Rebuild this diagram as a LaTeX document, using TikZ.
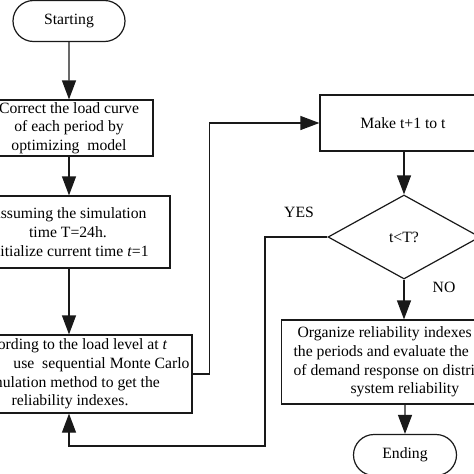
\documentclass[tikz,border=0pt]{standalone}
\usepackage{fontspec}
\setmainfont{Liberation Serif}
\usetikzlibrary{shapes.geometric,shapes.misc,arrows.meta}
\tikzset{
    TT/.style ={rounded rectangle, minimum height=41pt, inner sep=0pt, draw},
    RA/.style ={rectangle, align=center, inner sep=2pt, draw},
    DD/.style ={diamond, minimum width=152pt, minimum height=84pt, inner sep=0pt, draw},
    LB/.style ={inner sep=0pt}}
\begin{document}
\begin{tikzpicture}[x=1pt,y=-1pt,line width=1.2pt,draw=black!90,
    every node/.style={font=\fontsize{15.7}{18.7}\selectfont},
    >={Triangle[length=19pt,width=14pt]}]
        \useasboundingbox (0,0) rectangle (474,474);
        \node[TT,minimum width=112pt] (1) at(69,21){Starting};
        \node[RA,minimum width=168pt,minimum height=56pt] (2) at(69,128)
            {Correct the load curve\\of each period by\\optimizing\ \ model};
        \node[RA,minimum width=204pt,minimum height=72pt] (3) at(68,232)
            {Assuming the simulation\\time T=24h.\\Initialize current time \textit{t}=1};
        \node[RA,minimum width=244pt,minimum height=78pt] (4) at(70,374)
            {According to the load level at \textit{t}\\\hspace*{63pt}use\ \ sequential Monte Carlo\\simulation method to get the\\reliability indexes.};
        \node[RA,minimum width=166pt,minimum height=56pt] (5) at(403,123){Make t+1 to t};
        \node[DD] (6) at(404,237){t<T?};
        \node[RA,align=left,anchor=west,inner xsep=12pt,minimum height=84pt] (7) at(281,362)
            {\hspace*{4pt}Organize reliability indexes\\the periods and evaluate the\\of demand response on distribution\\\hspace*{57pt}system reliability};
        \node[TT,minimum width=103pt] (8) at(405,455){Ending};
        \node[LB] (9) at(299,212){YES};
        \node[LB] (10) at(444,287){NO};
        \coordinate (11) at(265,446);
        \draw[->] (1) --(2);
        \draw[->] (2) --(3.north -| 2.south);
        \draw[->] (3.south -| 2.south) --(4.north -| 2.south);
        \draw[->] (4.east) -- ++(17,0) |- (5);
        \draw[->] (5.south -| 6.north) --(6);
        \draw[->] (6.west) -| (11) -| (4.south -| 2.south);
        \draw[->] (6) --(7.north -| 6.south);
        \draw[->] (7.south -| 8.north) --(8);
    \end{tikzpicture}
\end{document}
